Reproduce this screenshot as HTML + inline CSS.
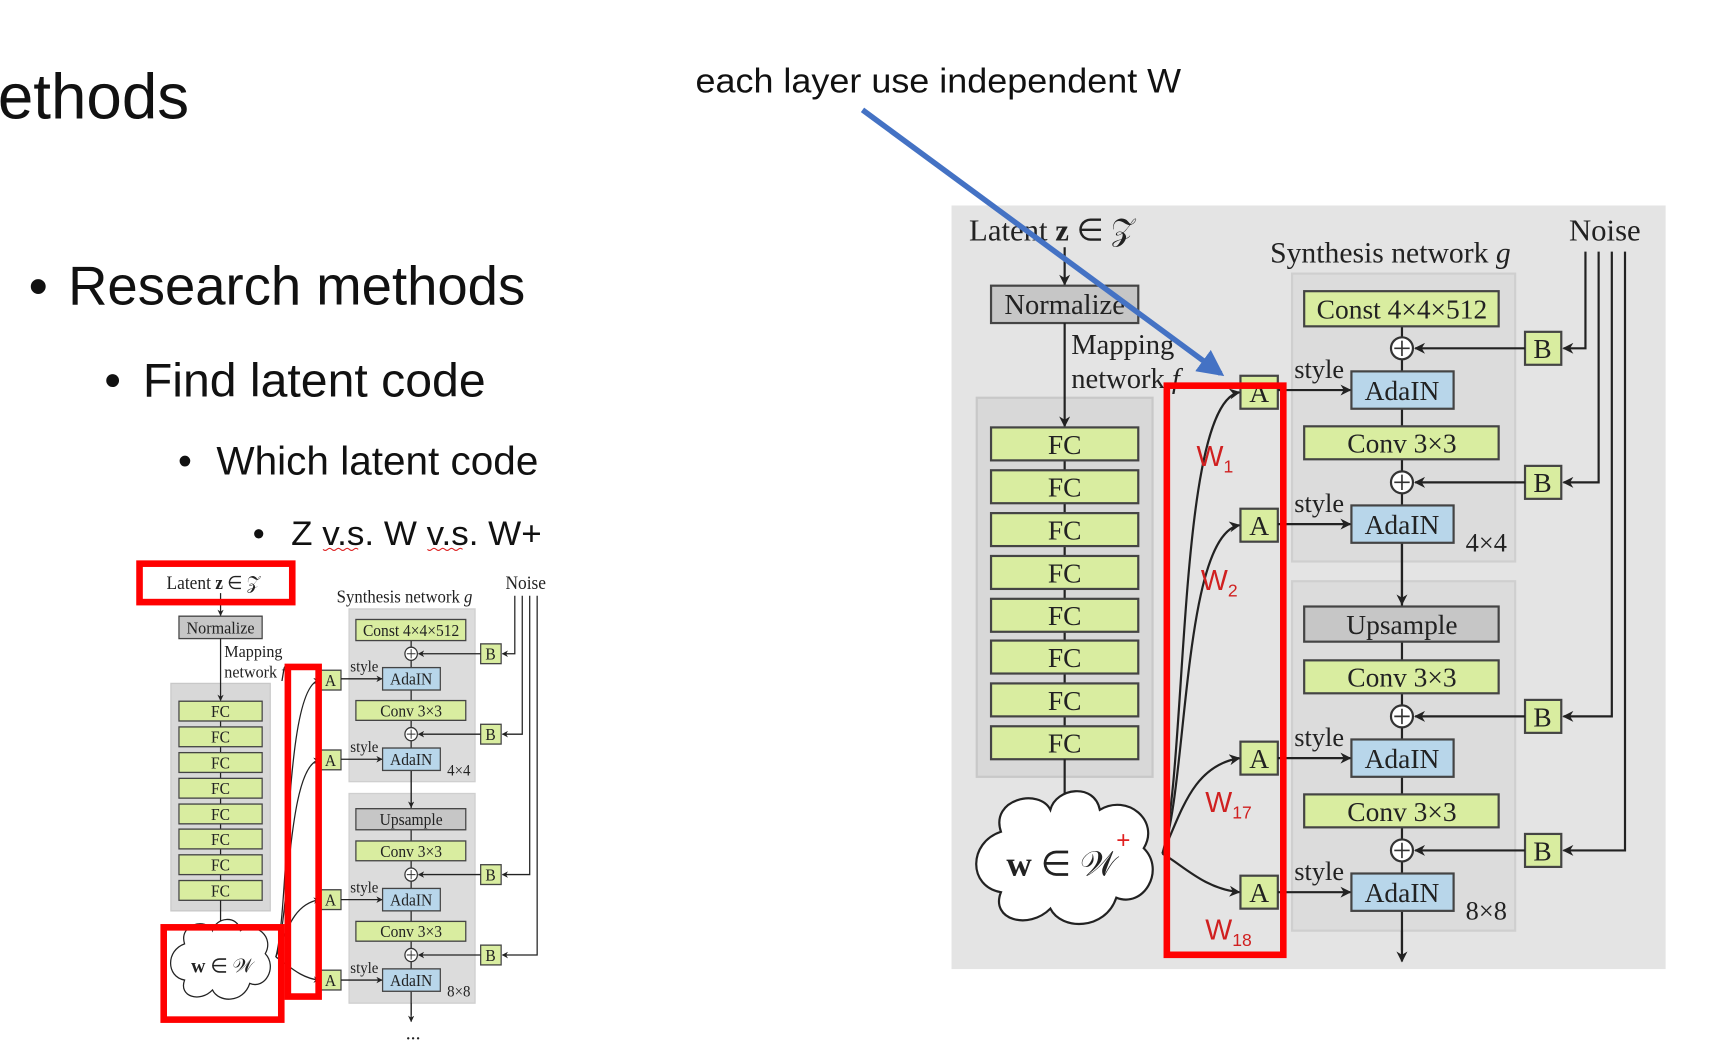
<!DOCTYPE html>
<html><head><meta charset="utf-8"><style>
html,body{margin:0;padding:0;background:#fff;}
svg{display:block;}
</style></head><body>
<svg width="1714" height="1057" viewBox="0 0 1560 962" xmlns="http://www.w3.org/2000/svg">
<defs>
<marker id="ah" markerWidth="10" markerHeight="10" refX="9" refY="5" orient="auto" markerUnits="userSpaceOnUse"><path d="M0,0 L10,5 L0,10 L3,5 z" fill="#222"/></marker>
<marker id="bh" markerWidth="24" markerHeight="24" refX="20" refY="12" orient="auto" markerUnits="userSpaceOnUse"><path d="M0,0 L24,12 L0,24 z" fill="#4472c4"/></marker>
<g id="core" font-family="Liberation Serif, serif" fill="#222">
  <text x="886" y="222" font-size="28">Latent <tspan font-weight="bold">z</tspan> ∈ 𝒵</text>
  <text x="1160" y="242" font-size="27">Synthesis network <tspan font-style="italic">g</tspan></text>
  <text x="1432" y="222" font-size="28">Noise</text>
  <line x1="973" y1="228" x2="973" y2="262" stroke="#222" stroke-width="2" marker-end="url(#ah)"/>
  <rect x="906" y="263" width="134" height="34" fill="#c6c6c6" stroke="#444" stroke-width="2"/>
  <text x="973" y="289" font-size="26" text-anchor="middle">Normalize</text>
  <text x="979" y="325" font-size="26">Mapping</text>
  <text x="979" y="356" font-size="26">network <tspan font-style="italic">f</tspan></text>
  <rect x="893" y="365" width="160" height="345" fill="#d8d8d8" stroke="#c8c8c8" stroke-width="2"/>
  <line x1="973" y1="297" x2="973" y2="391" stroke="#222" stroke-width="2" marker-end="url(#ah)"/>
  <line x1="973" y1="407" x2="973" y2="679" stroke="#222" stroke-width="2"/>
  <g stroke="#444" stroke-width="2" fill="#d9eda0">
   <rect x="906" y="392" width="134" height="30"/><rect x="906" y="431" width="134" height="30"/>
   <rect x="906" y="470" width="134" height="30"/><rect x="906" y="509" width="134" height="30"/>
   <rect x="906" y="548" width="134" height="30"/><rect x="906" y="586" width="134" height="30"/>
   <rect x="906" y="625" width="134" height="30"/><rect x="906" y="664" width="134" height="30"/>
  </g>
  <g font-size="25" text-anchor="middle">
   <text x="973" y="416">FC</text><text x="973" y="455">FC</text><text x="973" y="494">FC</text><text x="973" y="533">FC</text>
   <text x="973" y="572">FC</text><text x="973" y="610">FC</text><text x="973" y="649">FC</text><text x="973" y="688">FC</text>
  </g>
  <line x1="973" y1="694" x2="973" y2="738" stroke="#222" stroke-width="2" marker-end="url(#ah)"/>
  <rect x="1180" y="252" width="203" height="262" fill="#dcdcdc" stroke="#cfcfcf" stroke-width="2"/>
  <rect x="1180" y="532" width="203" height="318" fill="#dcdcdc" stroke="#cfcfcf" stroke-width="2"/>
  <line x1="1280" y1="300" x2="1280" y2="868" stroke="#222" stroke-width="2"/>
  <line x1="1280" y1="497" x2="1280" y2="553" stroke="#222" stroke-width="2" marker-end="url(#ah)"/>
  <line x1="1280" y1="850" x2="1280" y2="878" stroke="#222" stroke-width="2" marker-end="url(#ah)"/>
  <g stroke="#444" stroke-width="2">
   <rect x="1191" y="268" width="177" height="32" fill="#d9eda0"/>
   <rect x="1191" y="391" width="177" height="30" fill="#d9eda0"/>
   <rect x="1191" y="555" width="177" height="32" fill="#c6c6c6"/>
   <rect x="1191" y="604" width="177" height="30" fill="#d9eda0"/>
   <rect x="1191" y="726" width="177" height="30" fill="#d9eda0"/>
   <rect x="1234" y="341" width="93" height="34" fill="#b8d6ea"/>
   <rect x="1234" y="463" width="93" height="34" fill="#b8d6ea"/>
   <rect x="1234" y="676" width="93" height="34" fill="#b8d6ea"/>
   <rect x="1234" y="798" width="93" height="34" fill="#b8d6ea"/>
   <rect x="1392" y="305" width="33" height="30" fill="#d9eda0"/>
   <rect x="1392" y="427" width="33" height="30" fill="#d9eda0"/>
   <rect x="1392" y="640" width="33" height="30" fill="#d9eda0"/>
   <rect x="1392" y="762" width="33" height="30" fill="#d9eda0"/>
   <rect x="1133" y="345" width="34" height="30" fill="#d9eda0"/>
   <rect x="1133" y="466" width="34" height="30" fill="#d9eda0"/>
   <rect x="1133" y="678" width="34" height="30" fill="#d9eda0"/>
   <rect x="1133" y="800" width="34" height="30" fill="#d9eda0"/>
  </g>
  <g font-size="25" text-anchor="middle">
   <text x="1280" y="293">Const 4×4×512</text>
   <text x="1280" y="415">Conv 3×3</text>
   <text x="1280" y="580">Upsample</text>
   <text x="1280" y="628">Conv 3×3</text>
   <text x="1280" y="750">Conv 3×3</text>
   <text x="1280" y="367">AdaIN</text><text x="1280" y="489">AdaIN</text>
   <text x="1280" y="702">AdaIN</text><text x="1280" y="824">AdaIN</text>
   <text x="1408" y="329">B</text><text x="1408" y="451">B</text><text x="1408" y="664">B</text><text x="1408" y="786">B</text>
   <text x="1150" y="369">A</text><text x="1150" y="490">A</text><text x="1150" y="702">A</text><text x="1150" y="824">A</text>
  </g>
  <g font-size="24"><text x="1182" y="347">style</text><text x="1182" y="469">style</text><text x="1182" y="682">style</text><text x="1182" y="804">style</text>
  <text x="1338" y="505">4×4</text><text x="1338" y="840">8×8</text></g>
  <g fill="#fff" stroke="#333" stroke-width="2">
   <circle cx="1280" cy="320" r="10"/><circle cx="1280" cy="442" r="10"/><circle cx="1280" cy="655" r="10"/><circle cx="1280" cy="777" r="10"/>
  </g>
  <g stroke="#333" stroke-width="1.5"><path d="M1273,320h14M1280,313v14M1273,442h14M1280,435v14M1273,655h14M1280,648v14M1273,777h14M1280,770v14"/></g>
  <g stroke="#222" stroke-width="2" fill="none">
   <line x1="1392" y1="320" x2="1292" y2="320" marker-end="url(#ah)"/>
   <line x1="1392" y1="442" x2="1292" y2="442" marker-end="url(#ah)"/>
   <line x1="1392" y1="655" x2="1292" y2="655" marker-end="url(#ah)"/>
   <line x1="1392" y1="777" x2="1292" y2="777" marker-end="url(#ah)"/>
   <line x1="1167" y1="358" x2="1233" y2="358" marker-end="url(#ah)"/>
   <line x1="1167" y1="480" x2="1233" y2="480" marker-end="url(#ah)"/>
   <line x1="1167" y1="693" x2="1233" y2="693" marker-end="url(#ah)"/>
   <line x1="1167" y1="815" x2="1233" y2="815" marker-end="url(#ah)"/>
   <path d="M1447,232 V320 H1427" marker-end="url(#ah)"/>
   <path d="M1459,232 V442 H1427" marker-end="url(#ah)"/>
   <path d="M1471,232 V655 H1427" marker-end="url(#ah)"/>
   <path d="M1483,232 V777 H1427" marker-end="url(#ah)"/>
   <path d="M1062,780 C1085,700 1075,370 1132,360" marker-end="url(#ah)"/>
   <path d="M1062,780 C1085,720 1080,490 1132,481" marker-end="url(#ah)"/>
   <path d="M1062,780 C1080,740 1090,700 1132,693" marker-end="url(#ah)"/>
   <path d="M1062,780 C1080,790 1100,812 1132,815" marker-end="url(#ah)"/>
  </g>
  <path d="M915,760 C905,730 950,720 960,740 C965,720 1000,715 1005,740 C1030,725 1060,750 1045,775 C1065,795 1045,830 1020,820 C1010,850 970,850 960,830 C940,850 905,840 915,815 C885,810 885,770 915,760 z" fill="#fff" stroke="#222" stroke-width="2"/>
</g>
</defs>

<g font-family="Liberation Sans, DejaVu Sans, sans-serif" fill="#111">
 <text x="-2" y="108" font-size="58">ethods</text>
 <text x="633" y="84" font-size="31.5" textLength="442" lengthAdjust="spacingAndGlyphs">each layer use independent W</text>
 <text x="26" y="277" font-size="50">•</text>
 <text x="62" y="277" font-size="50" textLength="416" lengthAdjust="spacingAndGlyphs">Research methods</text>
 <text x="95" y="361" font-size="43">•</text>
 <text x="130" y="361" font-size="43" textLength="312" lengthAdjust="spacingAndGlyphs">Find latent code</text>
 <text x="162" y="432" font-size="36">•</text>
 <text x="197" y="432" font-size="36" textLength="293" lengthAdjust="spacingAndGlyphs">Which latent code</text>
 <text x="230" y="496" font-size="31">•</text>
 <text x="265" y="496" font-size="31" textLength="228" lengthAdjust="spacingAndGlyphs">Z v.s. W v.s. W+</text>
</g>
<path d="M294,500 q2,2 4,0 t4,0 t4,0 t4,0 t4,0 t4,0 t4,0 t4,0 M389,500 q2,2 4,0 t4,0 t4,0 t4,0 t4,0 t4,0 t4,0 t4,0" stroke="#d22" stroke-width="1" fill="none"/>

<g transform="translate(-4,-3)">
<rect x="870" y="190" width="650" height="695" fill="#e4e4e4"/>
<use href="#core"/>
<text x="920" y="800" font-family="Liberation Serif, serif" font-size="32" fill="#222"><tspan font-weight="bold">w</tspan> ∈ 𝒲</text>
<text x="1020" y="775" font-family="Liberation Sans, sans-serif" font-size="22" fill="#e02020">+</text>
<g font-family="Liberation Sans, sans-serif" fill="#d02020" font-size="26">
 <text x="1093" y="427">W<tspan font-size="16" dy="6">1</tspan></text>
 <text x="1097" y="540">W<tspan font-size="16" dy="6">2</tspan></text>
 <text x="1101" y="742">W<tspan font-size="16" dy="6">17</tspan></text>
 <text x="1101" y="858">W<tspan font-size="16" dy="6">18</tspan></text>
</g>
<rect x="1066" y="354" width="106" height="518" fill="none" stroke="#f00" stroke-width="6"/>
</g>
<line x1="785" y1="100" x2="1111" y2="340" stroke="#4472c4" stroke-width="5" marker-end="url(#bh)"/>

<g transform="translate(-349,403) scale(0.565,0.6)"><use href="#core"/></g>
<text x="174" y="885" font-family="Liberation Serif, serif" font-size="18" fill="#222"><tspan font-weight="bold">w</tspan> ∈ 𝒲</text>
<text x="376" y="946" font-family="Liberation Serif, serif" font-size="18" text-anchor="middle" fill="#222">...</text>
<g fill="none" stroke="#f00" stroke-width="6">
 <rect x="127" y="513" width="139" height="35"/>
 <rect x="149" y="844" width="107" height="84"/>
 <rect x="262" y="607" width="28" height="300"/>
</g>
</svg>
</body></html>
